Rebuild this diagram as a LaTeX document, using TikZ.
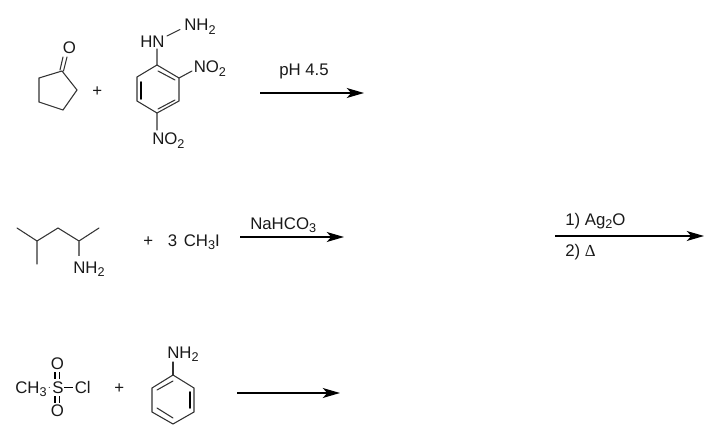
\documentclass[tikz,border=0pt]{standalone}
\usepackage{fontspec}
\setmainfont{Liberation Sans}
\newfontfamily\serifdelta{Liberation Serif}
\usetikzlibrary{arrows.meta}
\newcommand{\subs}[1]{\raisebox{-0.45ex}{\fontsize{9.5}{9.5}\selectfont #1}}
\tikzset{
  x=0.75pt,y=-0.75pt,
  lbl/.style={inner sep=0pt,anchor=base west,font=\fontsize{12.6}{12.6}\selectfont,text=black!90},
  bond/.style={line width=0.8pt,draw=black!80,line cap=round},
  bold bond/.style={line width=1.3pt,draw=black,line cap=round},
  grey bond/.style={line width=1pt,draw=black!55},
  rxn/.style={line width=1.2pt,draw=black,-{Stealth[length=13pt,width=7.5pt,inset=3.5pt]}}
}
\begin{document}
\begin{tikzpicture}
\useasboundingbox (0,0) rectangle (720,445);
% cyclopentanone
\coordinate (a1) at (62,71);\coordinate (a2) at (77,90);\coordinate (a3) at (63,110);\coordinate (a4) at (39,102);\coordinate (a5) at (39,78);
\node[lbl] (ketO) at (62.5,54) {O};
\coordinate (co1) at (67,57);\coordinate (co2) at (63.5,71);\coordinate (co3) at (63,57);\coordinate (co4) at (60,70);
\draw[bond] (a1)--(a2)--(a3)--(a4)--(a5)--cycle;
\draw[bond] (co1)--(co2) (co3)--(co4);
\node[lbl] (plus1) at (92,97) {+};
% dinitrophenylhydrazine
\coordinate (b1) at (157,65);\coordinate (b2) at (179,78);\coordinate (b3) at (179,101);\coordinate (b4) at (157,113);\coordinate (b5) at (137,101);\coordinate (b6) at (137,77);
\coordinate (i1) at (158,71);\coordinate (i2) at (175,80);
\coordinate (i3) at (158,109);\coordinate (i4) at (175,100);
\coordinate (i5) at (141,82);\coordinate (i6) at (141,99);
\draw[bond] (b1)--(b2)--(b3)--(b4)--(b5)--(b6)--cycle;
\draw[bond] (i1)--(i2) (i3)--(i4);
\draw[bold bond] (i5)--(i6);
\node[lbl] (hn) at (140,48) {HN};
\node[lbl] (nh2a) at (184,31) {NH\subs{2}};
\node[lbl] (no2a) at (193.5,73) {NO\subs{2}};
\node[lbl] (no2b) at (152,145) {NO\subs{2}};
\coordinate (n1) at (157,49);\coordinate (n2) at (167,36);\coordinate (n3) at (180,29.5);\coordinate (n4) at (192,71);\coordinate (n5) at (157,130);
\draw[bond] (n1)--(b1) (n2)--(n3) (b2)--(n4) (b4)--(n5);
\node[lbl] (ph) at (279,76) {pH 4.5};
\coordinate (r1s) at (260,93);\coordinate (r1e) at (364,93);
\draw[rxn] (r1s)--(r1e);
% amine
\coordinate (c1) at (17,228);\coordinate (c2) at (37,241);\coordinate (c3) at (58,228);\coordinate (c4) at (79,241);\coordinate (c5) at (99,228);\coordinate (c6) at (37,264);\coordinate (c7) at (79,256);
\draw[bond] (c1)--(c2)--(c3)--(c4)--(c5) (c2)--(c6);
\draw[grey bond] (c4)--(c7);
\node[lbl] (nh2b) at (73,273) {NH\subs{2}};
\node[lbl] (plus2) at (143,246) {+};
\node[lbl] (three) at (167.5,247) {3};
\node[lbl] (mei) at (183.5,246) {CH\subs{3}I};
\node[lbl] (nahco) at (250,229) {NaHCO\subs{3}};
\coordinate (r2s) at (240,237);\coordinate (r2e) at (344,237);
\draw[rxn] (r2s)--(r2e);
\node[lbl] (ag) at (565,225) {1) Ag\subs{2}O};
\node[lbl] (heat) at (565,256) {2) {\serifdelta Δ}};
\coordinate (r3s) at (555,236);\coordinate (r3e) at (704,236);
\draw[rxn] (r3s)--(r3e);
% mesyl chloride
\node[lbl] (ch3) at (15,393) {CH\subs{3}};
\node[lbl] (dot) at (47.5,390) {\fontsize{7}{7}\selectfont\textperiodcentered};
\node[lbl] (s) at (52,393.5) {S};
\node[lbl] (cl) at (74.5,393) {Cl};
\node[lbl] (o1) at (50.5,369) {O};
\node[lbl] (o2) at (50.5,416.5) {O};
\coordinate (d1) at (55,372);\coordinate (d2) at (55,379);\coordinate (d3) at (59.5,372);\coordinate (d4) at (59.5,379);
\coordinate (d5) at (55,396);\coordinate (d6) at (55,403);\coordinate (d7) at (59.5,396);\coordinate (d8) at (59.5,403);
\coordinate (d9) at (64,387.5);\coordinate (d10) at (73,387.5);
\draw[line width=0.9pt] (d1)--(d2) (d3)--(d4) (d5)--(d6) (d7)--(d8);
\draw[line width=1.1pt] (d9)--(d10);
\node[lbl] (plus3) at (114,393) {+};
% aniline
\coordinate (e1) at (173,375);\coordinate (e2) at (194,388);\coordinate (e3) at (194,412);\coordinate (e4) at (173,424);\coordinate (e5) at (152,412);\coordinate (e6) at (152,388);
\coordinate (f1) at (157,390);\coordinate (f2) at (173,381);\coordinate (f3) at (157,408);\coordinate (f4) at (173,418);\coordinate (f5) at (190,392);\coordinate (f6) at (190,408);
\coordinate (f7) at (173,362);
\draw[bond] (e1)--(e2)--(e3)--(e4)--(e5)--(e6)--cycle;
\draw[bond] (f1)--(f2) (f3)--(f4);
\draw[bold bond] (f5)--(f6);
\draw[bond] (f7)--(e1);
\node[lbl] (nh2c) at (167,358) {NH\subs{2}};
\coordinate (r4s) at (237,393);\coordinate (r4e) at (340,393);
\draw[rxn] (r4s)--(r4e);
\end{tikzpicture}
\end{document}
